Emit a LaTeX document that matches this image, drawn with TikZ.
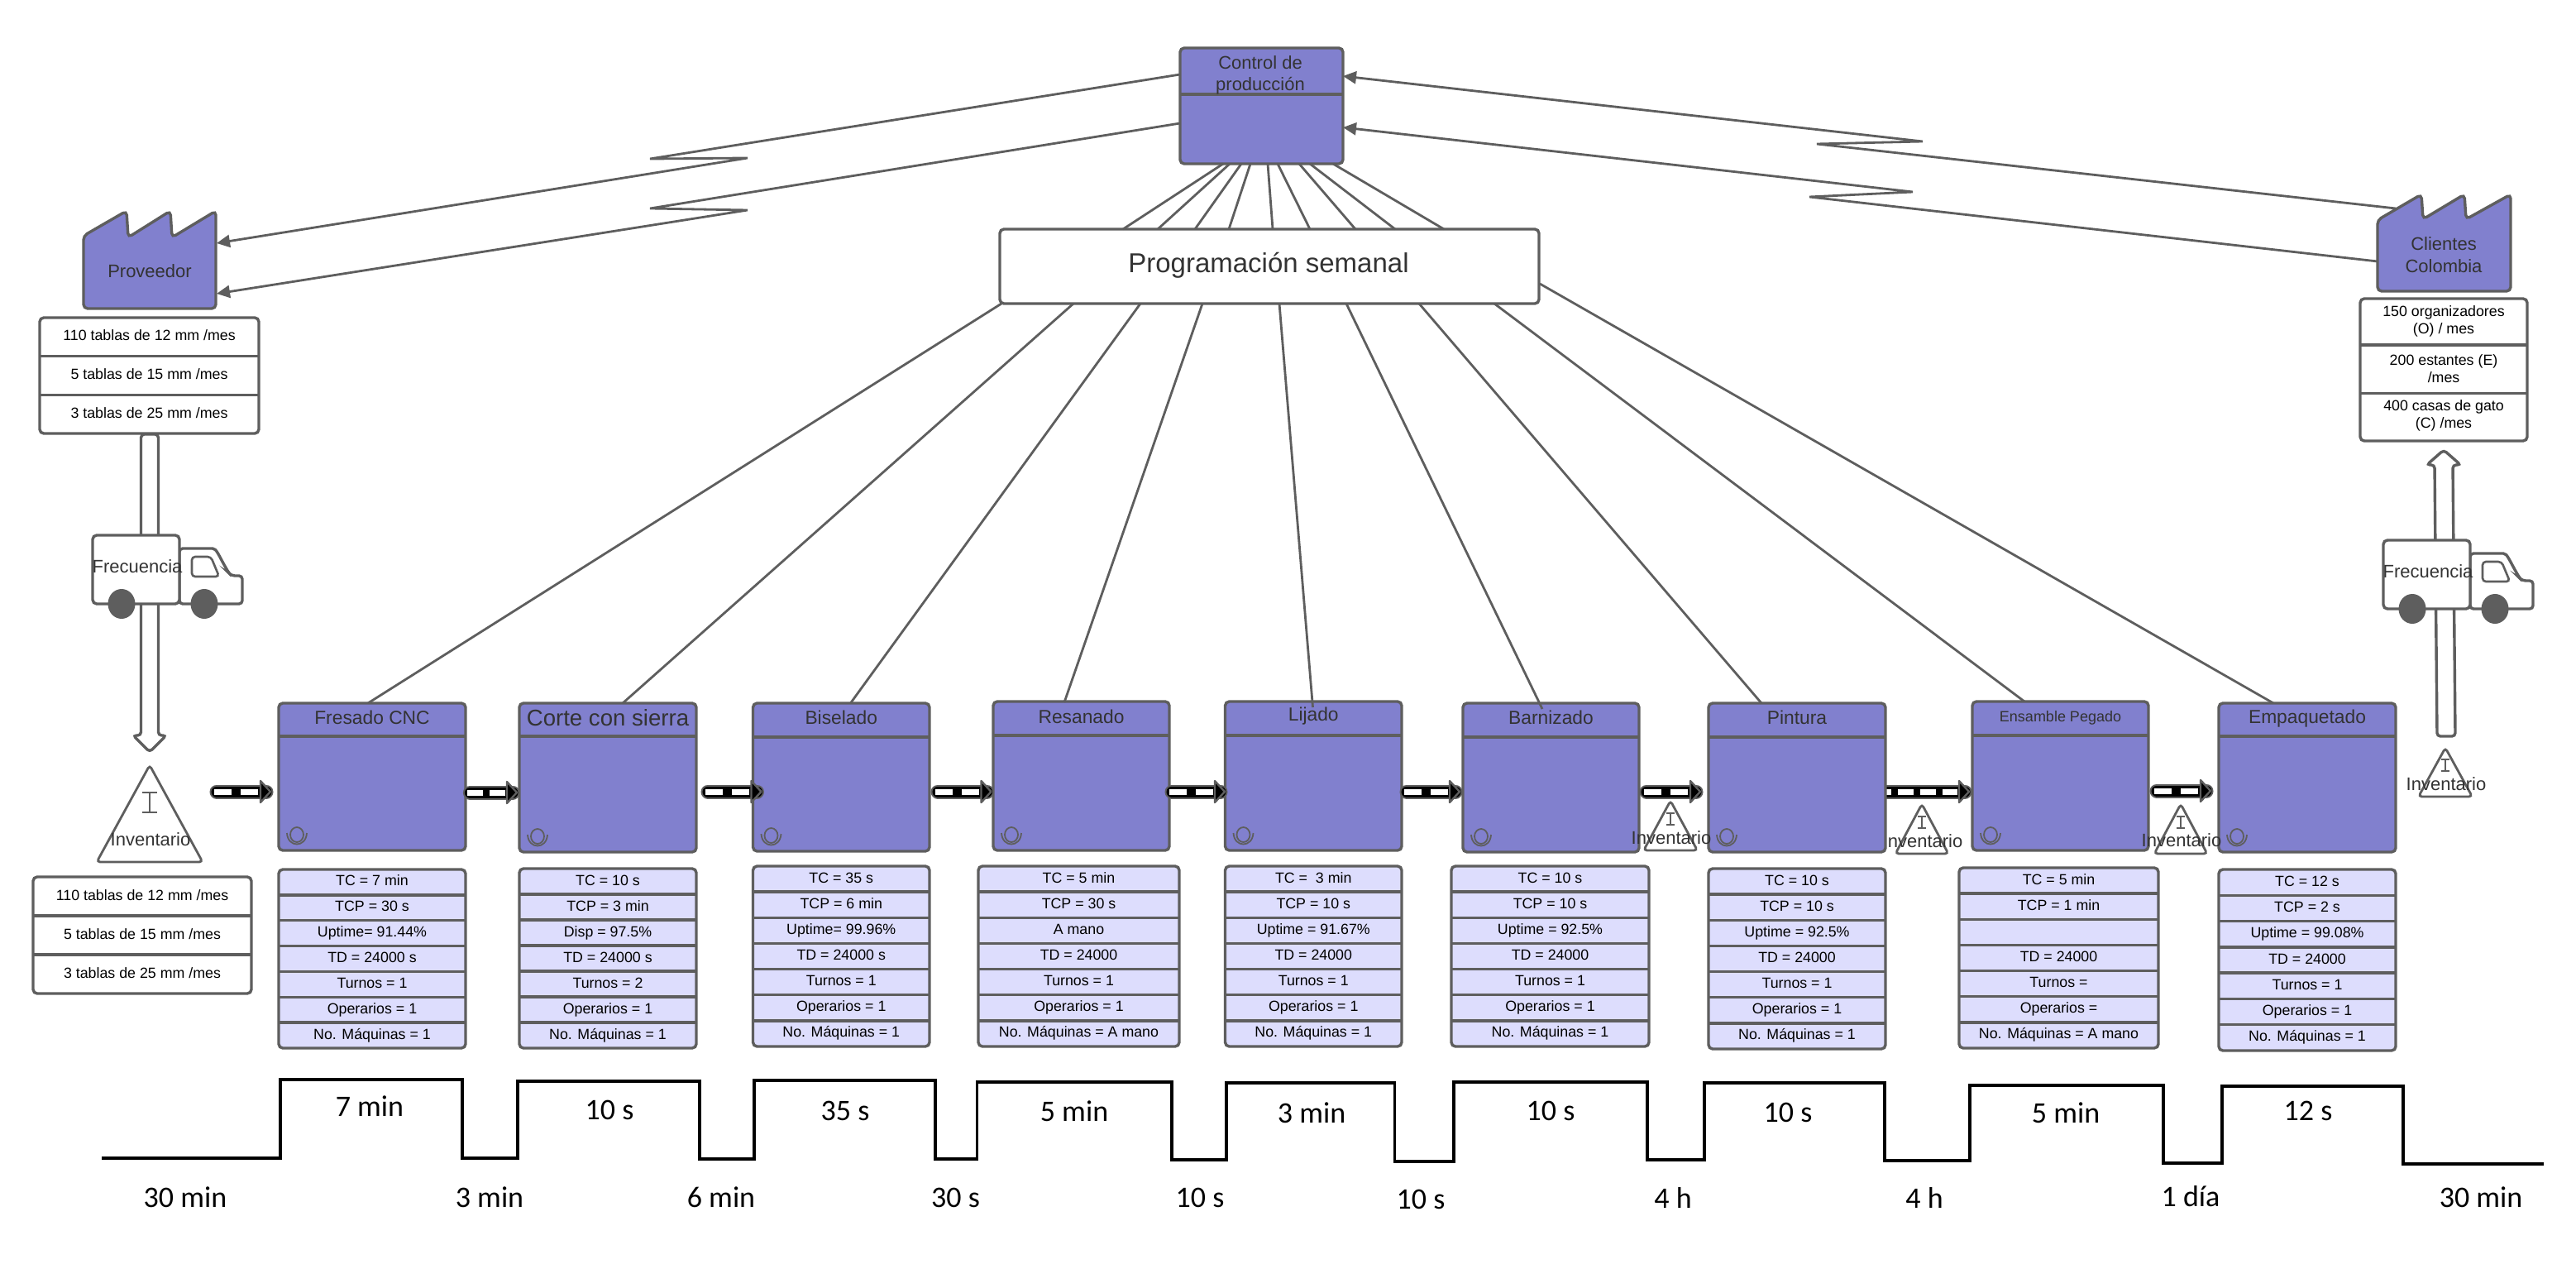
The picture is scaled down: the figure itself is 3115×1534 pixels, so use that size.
\documentclass[tikz,border=0pt]{standalone}
\usepackage{fontspec}
\setmainfont{Liberation Sans}
\newfontfamily\carl{Carlito}
\usetikzlibrary{calc,arrows.meta}
\pgfdeclarelayer{under}
\pgfsetlayers{under,main}
\definecolor{lineg}{HTML}{5E5E5E}
\definecolor{purp}{HTML}{8180CE}
\definecolor{lil}{HTML}{DDDDFD}
\definecolor{ink}{HTML}{333333}
\tikzset{
  boxline/.style={draw=lineg,line width=1.7pt},
  rbox/.style={boxline,rounded corners=2.5pt,inner sep=0pt,outer sep=0pt},
  pbox/.style={rbox,fill=purp},
  lbox/.style={rbox,fill=lil},
  wbox/.style={rbox,fill=white},
  fan/.style={draw=lineg,line width=1.4pt},
  zig/.style={draw=lineg,line width=1.4pt,miter limit=3,-{Triangle[length=8pt,width=7.5pt]}},
  lbl/.style={inner sep=0pt,text=ink,font=\fontsize{11}{13}\selectfont,align=center},
  ttl/.style={inner sep=0pt,text=ink,font=\fontsize{11.4}{13}\selectfont},
  ttlbig/.style={inner sep=0pt,text=ink,font=\fontsize{13.8}{16}\selectfont},
  ttlsmall/.style={inner sep=0pt,text=ink,font=\fontsize{9}{11}\selectfont},
  tbltext/.style={inner sep=0pt,text=black,font=\fontsize{8.9}{10.5}\selectfont,align=center},
  tlab/.style={inner sep=0pt,text=black,font=\carl\fontsize{18}{20}\selectfont},
  tline/.style={draw=black,line width=1.8pt,miter limit=2},
  mat/.style={boxline,rounded corners=2pt},
  pushg/.style={draw=lineg,line width=8.5pt,line cap=round},
  pushk/.style={draw=black,line width=6.5pt,line cap=round},
  pushw/.style={draw=white,line width=3.5pt},
  d74/.style={dash pattern=on 10.5pt off 5.5pt},
  d66/.style={dash pattern=on 9.5pt off 4pt},
  pushh/.style={draw=lineg,fill=black,line width=1.2pt,line join=round},
  icon/.style={draw=lineg,line width=0.9pt},
  isign/.style={draw=lineg,line width=0.9pt},
}
% node box from corner coordinates: name x0 y0 x1 y1 style
\newcommand\vsmBox[6]{%
  \pgfmathsetmacro\vw{(#4-#2)*0.5}\pgfmathsetmacro\vh{(#5-#3)*0.5}%
  \node[#6,anchor=north west,minimum width=\vw pt,minimum height=\vh pt] (#1) at (#2,#3) {};}
% process: name x0 y0 x1 y1 divider-y title-y title-style title
\newcommand\vsmProc[9]{%
  \vsmBox{#1}{#2}{#3}{#4}{#5}{pbox}%
  \pgfmathsetmacro\vdiv{#6-#3}%
  \draw[boxline] ($(#1.north west)+(0,\vdiv)$) -- ($(#1.north east)+(0,\vdiv)$);
  \pgfmathsetmacro\vxc{(#2+#4)/2}%
  \node[#8] (#1-title) at (\vxc,#7) {#9};
  \draw[icon] ($(#1.south west)+(22,-19)$) ellipse[x radius=8,y radius=9];
  \draw[icon] ($(#1.south west)+(10,-21)$) .. controls ($(#1.south west)+(11,-3)$) and ($(#1.south west)+(33,-3)$) .. ($(#1.south west)+(34,-21)$);
}
% table: name x0 y0 x1 y1 style rows items
\newcommand\vsmTable[8]{%
  \vsmBox{#1}{#2}{#3}{#4}{#5}{#6}%
  \pgfmathsetmacro\vxc{(#2+#4)/2}\pgfmathsetmacro\vrh{(#5-#3)/#7}%
  \foreach[count=\i] \t in {#8}{%
    \pgfmathsetmacro\vyb{#3+(\i-0.5)*\vrh+4.5}%
    \node[tbltext,anchor=base] (#1-\i) at (\vxc,\vyb) {\t};
    \ifnum\i<#7
      \draw[boxline] ($(#1.north west)+(0,\i*\vrh)$) -- ($(#1.north east)+(0,\i*\vrh)$);
    \fi
  }}
% push arrow: dash style, outer start, tip
\newcommand\vsmPush[3]{%
  \path #2 coordinate (ps) #3 coordinate (pe);
  \draw[pushg] ($(ps)+(8,0)$) -- ($(pe)+(-6,0)$);
  \draw[pushk] ($(ps)+(8,0)$) -- ($(pe)+(-6,0)$);
  \draw[pushw,#1] ($(ps)+(5,0)$) -- ($(pe)+(-15,0)$);
  \draw[pushh] ($(pe)+(-1,0)$) -- ($(pe)+(-13,-13)$) -- ($(pe)+(-13,13)$) -- cycle;
}
% inventory: name apexx apexy basey halfwidth signy signhh signhw labely
\newcommand\vsmInv[9]{%
  \coordinate (#1-apex) at (#2,#3);
  \draw[boxline,line width=1.4pt,rounded corners=2pt] (#2,#3) -- ($(#2,#4)+(-#5,0)$) -- ($(#2,#4)+(#5,0)$) -- cycle;
  \draw[isign] ($(#2,#6)+(0,-#7)$) -- ($(#2,#6)+(0,#7)$)
    ($(#2,#6)+(-#8,-#7)$) -- ($(#2,#6)+(#8,-#7)$)
    ($(#2,#6)+(-#8,#7)$) -- ($(#2,#6)+(#8,#7)$);
  \node[lbl] (#1-label) at ($(#2,#9)+(1,0)$) {Inventario};
}
% truck: name x y
\newcommand\vsmTruck[3]{%
  \begin{scope}[shift={(#2,#3)}]
    \draw[mat,fill=white] (105,16) -- (141,16) .. controls (150,16) and (152,24) .. (165,46) -- (168,49) -- (181,49) -- (181,83) -- (105,83) -- cycle;
    \draw[mat,fill=white,line width=1.3pt] (120,26) -- (143,26) -- (153,50) -- (120,50) -- cycle;
    \vsmBox{#1}{0}{0}{105}{83}{wbox}
    \fill[lineg] (35,83) ellipse[x radius=16.5,y radius=18];
    \fill[lineg] (135,83) ellipse[x radius=16.5,y radius=18];
    \node[lbl] (#1-label) at (54,38) {Frecuencia};
  \end{scope}}
% material arrow: start tip shaft-half head-half head-len
\newcommand\vsmMat[5]{%
  \path #1 coordinate (ms) #2 coordinate (mt);
  \draw[mat,fill=white] ($(ms)+(-#3,0)$) -- ($(mt)+(-#3,#5)$) -- ($(mt)+(-#4,#5)$) -- (mt) -- ($(mt)+(#4,#5)$) -- ($(mt)+(#3,#5)$) -- ($(ms)+(#3,0)$) -- cycle;
}
\begin{document}
\begin{tikzpicture}[x=0.5pt,y=-0.5pt]
\useasboundingbox (0,0) rectangle (3115,1534);
\begin{pgfonlayer}{under}
  \fill[white] (0,0) rectangle (3115,1534);
\end{pgfonlayer}

% --- control and programme
\vsmBox{ctl}{1427}{58}{1624}{198}{pbox}
\draw[boxline] ($(ctl.north west)+(0,56)$) -- ($(ctl.north east)+(0,56)$);
\node[lbl] (ctl-title) at (1524,91) {Control de\\producción};
\vsmBox{prog}{1209}{277}{1861}{367}{wbox}
\node[inner sep=0pt,text=ink,font=\fontsize{16.5}{19}\selectfont] (prog-title) at (1534,321) {Programación semanal};

% --- factories
\draw[pbox,rounded corners=2.5pt] (101,373) -- (101,285) -- (153,255) -- (155,287) -- (206,255) -- (208,287) -- (261,255) -- (261,373) -- cycle;
\node[lbl] (prov) at (181,328) {Proveedor};
\draw[pbox,rounded corners=2.5pt] (2875,352) -- (2875,266) -- (2928,235) -- (2930,265) -- (2980,235) -- (2982,265) -- (3036,235) -- (3036,352) -- cycle;
\node[lbl,font=\fontsize{11}{13.5}\selectfont] (cli) at (2955,308) {Clientes\\Colombia};

% --- supplier and customer tables
\vsmTable{tsup}{48}{384}{313}{524}{wbox}{3}{110 tablas de 12 mm /mes,5 tablas de 15 mm /mes,3 tablas de 25 mm /mes}
\vsmTable{tinv}{40}{1060}{304}{1201}{wbox}{3}{110 tablas de 12 mm /mes,5 tablas de 15 mm /mes,3 tablas de 25 mm /mes}
\vsmBox{tcli}{2854}{361}{3056}{533}{wbox}
\draw[boxline] ($(tcli.north west)+(0,56)$) -- ($(tcli.north east)+(0,56)$);
\draw[boxline] ($(tcli.north west)+(0,114.5)$) -- ($(tcli.north east)+(0,114.5)$);
\node[tbltext] (tcli-1) at (2955,388.5) {150 organizadores\\(O) / mes};
\node[tbltext] (tcli-2) at (2955,445.5) {200 estantes (E)\\/mes};
\node[tbltext] (tcli-3) at (2955,502.5) {400 casas de gato\\(C) /mes};

% --- processes
\vsmProc{p1}{337}{850}{563}{1028}{890}{867}{ttl}{Fresado CNC}
\vsmProc{p2}{628}{850}{842}{1030}{890}{868}{ttlbig}{Corte con sierra}
\vsmProc{p3}{910.5}{850}{1124}{1029}{891}{867}{ttl}{Biselado}
\vsmProc{p4}{1201}{848}{1414}{1028}{889}{866}{ttl}{Resanado}
\vsmProc{p5}{1481.5}{848}{1695}{1028}{889}{866}{ttl}{Lijado}
\vsmProc{p6}{1769}{850}{1982}{1030}{891}{867}{ttl}{Barnizado}
\vsmProc{p7}{2066}{850}{2280}{1030}{891}{867}{ttl}{Pintura}
\vsmProc{p8}{2385}{848}{2598}{1028}{889}{868}{ttlsmall}{Ensamble Pegado}
\vsmProc{p9}{2683}{850}{2897}{1030}{890}{869}{ttl}{Empaquetado}

% --- data tables
\vsmTable{d1}{337}{1051}{563}{1267}{lbox}{7}{TC = 7 min,TCP = 30 s,Uptime= 91.44\%,TD = 24000 s,Turnos = 1,Operarios = 1,No. Máquinas = 1}
\vsmTable{d2}{628}{1050}{842}{1267}{lbox}{7}{TC = 10 s,TCP = 3 min,Disp = 97.5\%,TD = 24000 s,Turnos = 2,Operarios = 1,No. Máquinas = 1}
\vsmTable{d3}{910.5}{1047}{1124}{1265}{lbox}{7}{TC = 35 s,TCP = 6 min,Uptime= 99.96\%,TD = 24000 s,Turnos = 1,Operarios = 1,No. Máquinas = 1}
\vsmTable{d4}{1183}{1047}{1426}{1265}{lbox}{7}{TC = 5 min,TCP = 30 s,A mano,TD = 24000,Turnos = 1,Operarios = 1,No. Máquinas = A mano}
\vsmTable{d5}{1481.5}{1047}{1695}{1265}{lbox}{7}{TC =\ \ 3 min,TCP = 10 s,Uptime = 91.67\%,TD = 24000,Turnos = 1,Operarios = 1,No. Máquinas = 1}
\vsmTable{d6}{1755}{1047}{1994}{1265}{lbox}{7}{TC = 10 s,TCP = 10 s,Uptime = 92.5\%,TD = 24000,Turnos = 1,Operarios = 1,No. Máquinas = 1}
\vsmTable{d7}{2066}{1050}{2280}{1268}{lbox}{7}{TC = 10 s,TCP = 10 s,Uptime = 92.5\%,TD = 24000,Turnos = 1,Operarios = 1,No. Máquinas = 1}
\vsmTable{d8}{2369}{1049}{2610}{1267}{lbox}{7}{TC = 5 min,TCP = 1 min,{},TD = 24000,Turnos =,Operarios =,No. Máquinas = A mano}
\vsmTable{d9}{2683}{1051}{2897}{1270}{lbox}{7}{TC = 12 s,TCP = 2 s,Uptime = 99.08\%,TD = 24000,Turnos = 1,Operarios = 1,No. Máquinas = 1}

% --- connectors: control to programme
\foreach \a/\b in {52/149,60/191,74/236,85/277,106/330,118/375,144/430,157/478,185/537}
  \draw[fan] ($(ctl.south west)+(\a,0)$) -- ($(prog.north west)+(\b,0)$);
% --- connectors: programme to processes
\foreach \a/\n/\b/\d in {2/p1/108/0,89/p2/125/0,170/p3/118/0,245/p4/86/1,338/p5/106/7,419/p6/96/7,507/p7/64/0,598/p8/63/0}
  \draw[fan] ($(prog.south west)+(\a,0)$) -- ($(\n.north west)+(\b,\d)$);
\draw[fan] ($(prog.south east)+(1,-24)$) -- ($(p9.north west)+(66,0)$);

% --- information zigzags
\coordinate (provA) at (262,294);
\coordinate (provB) at (262,355);
\coordinate (cliA) at (2897,252);
\coordinate (cliB) at (2875,316);
\draw[zig] ($(ctl.north west)+(0,32)$) -- (786,192) -- (904,191) -- (provA);
\draw[zig] ($(ctl.north west)+(0,91)$) -- (786,252) -- (904,254) -- (provB);
\draw[zig] (cliA) -- (2197,174) -- (2325,171) -- ($(ctl.north east)+(0,34)$);
\draw[zig] (cliB) -- (2188,238) -- (2313,232) -- ($(ctl.north east)+(0,96)$);

% --- inventories
\vsmInv{inv0}{181}{925}{1042}{64}{970}{12}{9}{1015}
\vsmInv{inv1}{2020}{968}{1028}{32.5}{990}{7}{5}{1013}
\vsmInv{inv3}{2637}{972}{1032}{32}{994}{7}{5}{1016}
\vsmInv{inv4}{2957}{904}{963}{32.5}{925}{7}{5}{948}
\begin{pgfonlayer}{under}
  \vsmInv{inv2}{2324}{972}{1032}{32}{994}{7}{5}{1017}
  \vsmPush{d66}{($(p7.east)+(-17,17)$)}{($(p8.west)+(-3,19)$)}
\end{pgfonlayer}

% --- material arrows and trucks
\vsmMat{($(tsup.south)+(0.5,1)$)}{($(inv0-apex)+(0,-16)$)}{10.5}{20}{-20}
\vsmMat{($(inv4-apex)+(1,-14)$)}{($(tcli.south)+(0,11)$)}{11}{20.5}{18}
\vsmTruck{tr1}{112}{647}
\vsmTruck{tr2}{2882}{653}

% --- push arrows
\coordinate (a0) at (254,957);
\vsmPush{d74}{(a0)}{($(p1.west)+(-9,18)$)}
\vsmPush{d66}{($(p1.east)+(-2.6,19)$)}{($(p2.west)+(-2,18)$)}
\vsmPush{d74}{($(p2.east)+(6,17)$)}{($(p3.west)+(11,17.5)$)}
\vsmPush{d74}{($(p3.east)+(2,17.5)$)}{($(p4.west)+(-1.5,19)$)}
\vsmPush{d74}{($(p4.east)+(-5,19)$)}{($(p5.west)+(0.5,19)$)}
\vsmPush{d74}{($(p5.east)+(-2,19)$)}{($(p6.west)+(-3,17)$)}
\vsmPush{d74}{($(p6.east)+(1,17)$)}{($(p7.west)+(-9,17)$)}
\vsmPush{d74}{($(p8.east)+(2,18)$)}{($(p9.west)+(-9,16)$)}

% --- timeline
\draw[tline] (123,1400) -- (339,1400) -- (339,1305) -- (559,1305) -- (559,1400) -- (626,1400) -- (626,1307) -- (846,1307) -- (846,1401) -- (912,1401) -- (912,1306) -- (1131,1306) -- (1131,1401) -- (1181.5,1401) -- (1181.5,1308) -- (1417,1308) -- (1417,1402) -- (1483,1402) -- (1483,1309) -- (1686.6,1309) -- (1686.6,1404) -- (1758,1404) -- (1758,1308) -- (1992,1308) -- (1992,1402) -- (2061,1402) -- (2061,1309) -- (2279,1309) -- (2279,1403) -- (2382,1403) -- (2382,1312) -- (2616,1312) -- (2616,1406) -- (2687,1406) -- (2687,1313) -- (2906,1313) -- (2906,1407) -- (3076,1407);
\foreach[count=\i] \x/\y/\t in {447/1337/7 min,737/1342/10 s,1022/1343/35 s,1299/1343/5 min,1586/1345/3 min,1875/1343/10 s,2162/1345/10 s,2498/1345/5 min,2791/1343/12 s,224/1447/30 min,592/1447/3 min,872/1447/6 min,1155.5/1448/30 s,1451/1448/10 s,1718/1450/10 s,2023/1448/4 h,2327/1448/4 h,2649/1446/1 día,3000/1447/30 min}
  \node[tlab] (tl\i) at (\x,\y) {\t};
\end{tikzpicture}
\end{document}
